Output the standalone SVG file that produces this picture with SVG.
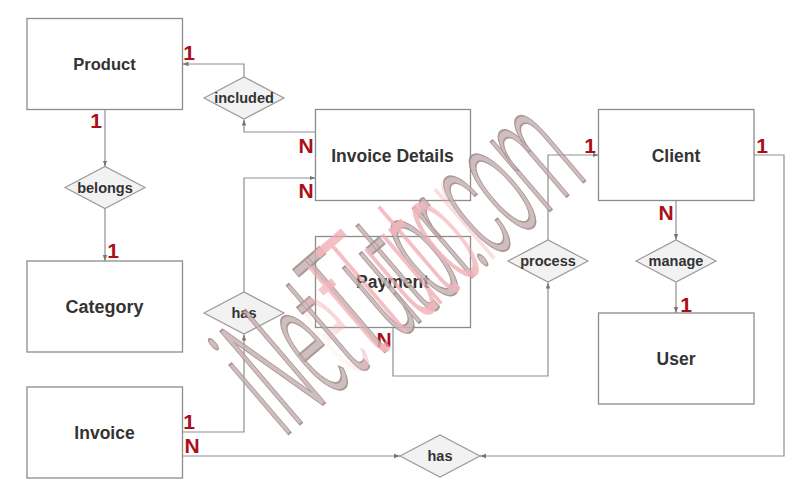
<svg xmlns="http://www.w3.org/2000/svg" width="800" height="480" viewBox="0 0 800 480">
<style>
.ent{fill:#fff;stroke:#8c8c8c;stroke-width:1.3}
.rel{fill:#f2f2f2;stroke:#9a9a9a;stroke-width:1.2}
.et{font-family:"Liberation Sans",Arial,sans-serif;font-weight:bold;font-size:17.5px;fill:#333;text-anchor:middle}
.rt{font-family:"Liberation Sans",Arial,sans-serif;font-weight:bold;font-size:14.5px;fill:#333;text-anchor:middle}
.card{font-family:"Liberation Sans",Arial,sans-serif;font-weight:bold;font-size:21px;fill:#aa1018;text-anchor:middle}
.conn path{fill:none;stroke:#8f8f8f;stroke-width:1.2}
.wm{font-family:Roboto,"Liberation Sans",sans-serif;font-weight:300;font-size:172px}
</style>
<defs>
<marker id="arr" markerWidth="6" markerHeight="6" refX="6" refY="3" orient="auto" markerUnits="userSpaceOnUse">
<path d="M0,0.8 L6,3 L0,5.2 z" fill="#777"/>
</marker>
<linearGradient id="pinkg" gradientUnits="userSpaceOnUse" x1="0" y1="0" x2="1100" y2="0">
<stop offset="0.22" stop-color="#f0a8b0" stop-opacity="0"/>
<stop offset="0.32" stop-color="#f0a8b0" stop-opacity="0.85"/>
<stop offset="0.62" stop-color="#f0a8b0" stop-opacity="0.85"/>
<stop offset="0.72" stop-color="#f0a8b0" stop-opacity="0"/>
</linearGradient>
</defs>
<rect width="800" height="480" fill="#fff"/>

<g class="conn" id="connectors">
<path d="M105,109.5 V166.5" marker-end="url(#arr)"/>
<path d="M105,208.5 V261" marker-end="url(#arr)"/>
<path d="M315.5,132 H244 V119.5" marker-end="url(#arr)"/>
<path d="M244,77 V64 H182.5" marker-end="url(#arr)"/>
<path d="M183,432 H244 V334.5" marker-end="url(#arr)"/>
<path d="M244,292.5 V178 H315.5" marker-end="url(#arr)"/>
<path d="M183,456 H400" marker-end="url(#arr)"/>
<path d="M754,155 H784 V456 H480" marker-end="url(#arr)"/>
<path d="M393,327.5 V376 H548 V282.5" marker-end="url(#arr)"/>
<path d="M548,240 V155 H598.5" marker-end="url(#arr)"/>
<path d="M676,201 V240" marker-end="url(#arr)"/>
<path d="M676,282.5 V313" marker-end="url(#arr)"/>
</g>

<g id="product"><rect class="ent" x="27" y="18.5" width="155.5" height="91"/><text class="et" x="104.5" y="69.5" style="font-size:16.5px">Product</text></g>
<g id="category"><rect class="ent" x="27" y="261" width="155.5" height="91"/><text class="et" x="104.5" y="312.5" style="font-size:18px">Category</text></g>
<g id="invoice"><rect class="ent" x="27" y="387" width="155.5" height="91"/><text class="et" x="104.5" y="439">Invoice</text></g>
<g id="invoice-details"><rect class="ent" x="315.5" y="109.5" width="155" height="91"/><text class="et" x="392.5" y="161.5">Invoice Details</text></g>
<g id="payment"><rect class="ent" x="315.5" y="236.5" width="155" height="91"/><text class="et" x="392.5" y="288">Payment</text></g>
<g id="client"><rect class="ent" x="598.5" y="109.5" width="155.5" height="91"/><text class="et" x="676" y="161.5">Client</text></g>
<g id="user"><rect class="ent" x="598.5" y="313" width="155.5" height="91"/><text class="et" x="676" y="365">User</text></g>

<g id="rel-included"><polygon class="rel" points="204,98 244,77 284,98 244,119"/><text class="rt" x="244" y="103">included</text></g>
<g id="rel-belongs"><polygon class="rel" points="65,187.5 105,166.5 145,187.5 105,208.5"/><text class="rt" x="105" y="192.5">belongs</text></g>
<g id="rel-has1"><polygon class="rel" points="204,313 244,292 284,313 244,334"/><text class="rt" x="244" y="318">has</text></g>
<g id="rel-process"><polygon class="rel" points="508,261 548,240 588,261 548,282"/><text class="rt" x="548" y="266">process</text></g>
<g id="rel-manage"><polygon class="rel" points="636,261 676,240 716,261 676,282"/><text class="rt" x="676" y="266">manage</text></g>
<g id="rel-has2"><polygon class="rel" points="400,456 440,435 480,456 440,477"/><text class="rt" x="440" y="461">has</text></g>

<g id="cardinalities">
<text class="card" x="189" y="60">1</text>
<text class="card" x="96" y="128">1</text>
<text class="card" x="306" y="153">N</text>
<text class="card" x="306" y="198">N</text>
<text class="card" x="113" y="258">1</text>
<text class="card" x="189" y="429">1</text>
<text class="card" x="192" y="453">N</text>
<text class="card" x="384" y="347">N</text>
<text class="card" x="590" y="153">1</text>
<text class="card" x="762" y="153">1</text>
<text class="card" x="666" y="220">N</text>
<text class="card" x="686" y="312">1</text>
</g>

<g id="watermark" transform="translate(284,438) rotate(-40.5) scale(0.375,1)" opacity="0.85">
<text class="wm" x="0" y="0" fill="#c6b3b3" stroke="#9e8686" stroke-width="2">iNetTutor.com</text>
<text class="wm" x="75" y="0" fill="url(#pinkg)">iNetTutor.com</text>
</g>
</svg>
